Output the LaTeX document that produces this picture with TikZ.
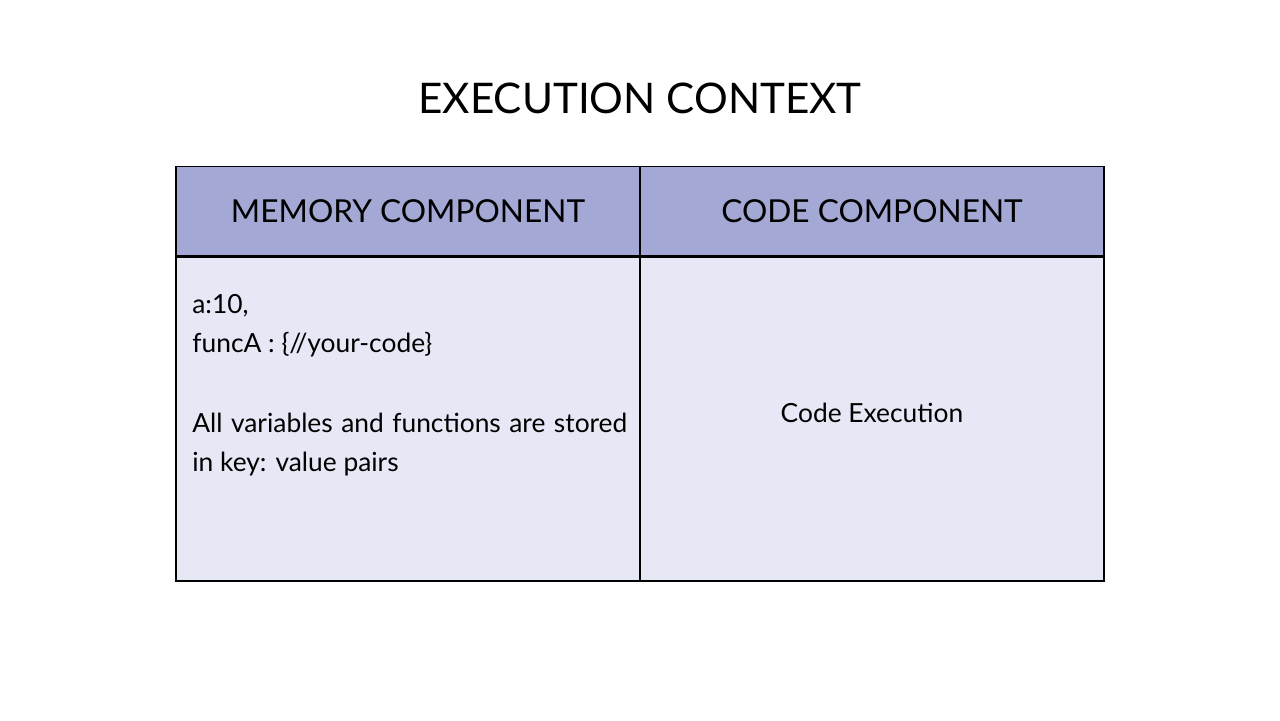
\documentclass[tikz,border=0pt]{standalone}
\usepackage{fontspec}
\setmainfont{Lato}
\usepackage{xcolor}
\definecolor{headblue}{HTML}{A3A8D4}
\definecolor{bodyblue}{HTML}{E6E8F5}
\tikzstyle{head cell}=[fill=headblue, draw=black, line width=1pt, shape=rectangle, minimum width=9.28cm, minimum height=1.78cm, font=\fontsize{18}{22}\selectfont]
\tikzstyle{body cell}=[fill=bodyblue, draw=black, line width=1pt, shape=rectangle, minimum width=9.28cm, minimum height=6.48cm]
\begin{document}
\begin{tikzpicture}
    \useasboundingbox (0,0) rectangle (25.6,14.4);
    \node (title) at (12.8, 12.44) {\fontsize{24}{28}\selectfont EXECUTION CONTEXT};
    \node [style=head cell] (memhead) at (8.16, 10.18) {MEMORY COMPONENT};
    \node [style=head cell] (codehead) at (17.44, 10.18) {CODE COMPONENT};
    \node [style=body cell, anchor=north] (membody) at (memhead.south) {};
    \node [style=body cell, anchor=north] (codebody) at (codehead.south) {};
    \node [anchor=north west, text width=8.7cm, align=justify, inner sep=0pt, font=\fontsize{15}{22.5}\selectfont] (memtext) at (3.84, 8.52)
      {a:10,\\ funcA : \{//your-code\}\\[22.5pt] All variables and functions are stored in key: value pairs};
    \node [font=\fontsize{15}{18}\selectfont] (codetext) at (17.44, 6.14) {Code Execution};
\end{tikzpicture}
\end{document}
